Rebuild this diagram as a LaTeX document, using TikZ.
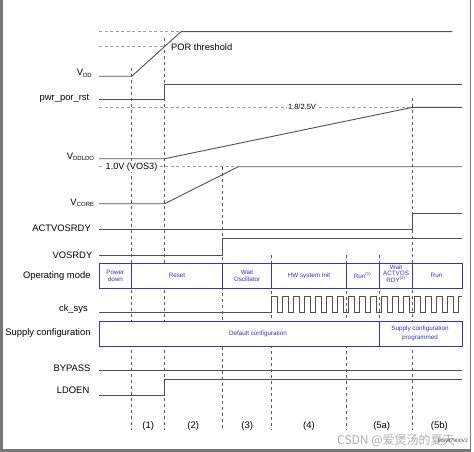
\documentclass[tikz,border=0pt]{standalone}
\usepackage{fontspec}
\setmainfont{Liberation Sans}
\newfontfamily\cjk{Noto Sans CJK SC}
\definecolor{sigc}{RGB}{80,80,80}
\definecolor{thrc}{RGB}{160,160,160}
\definecolor{vdc}{RGB}{90,90,90}
\definecolor{bluec}{RGB}{50,50,210}
\definecolor{framec}{RGB}{120,120,120}
\definecolor{wmc}{RGB}{175,175,175}
\begin{document}
\begin{tikzpicture}[x=1pt,y=-1pt,
  sig/.style={draw=sigc, line width=0.9pt, line join=miter},
  thr/.style={draw=thrc, line width=0.6pt, dash pattern=on 3pt off 2.5pt},
  vdash/.style={draw=vdc, line width=0.7pt, dash pattern=on 3pt off 3pt},
  lbl/.style={anchor=east, font=\fontsize{9.4}{11}\selectfont, text=black, inner sep=0pt},
  modebox/.style={draw=bluec, line width=0.7pt, fill=white},
  mtxt/.style={font=\fontsize{6.3}{7.4}\selectfont, text=bluec, align=center, inner sep=0pt},
  phase/.style={font=\fontsize{9.5}{11}\selectfont, inner sep=0pt},
  lvl/.style={fill=white, inner sep=1pt}]
\newcommand{\sbs}[1]{{\fontsize{6}{6}\selectfont\raisebox{-1.6pt}{#1}}}
\path[use as bounding box, fill=white] (0,0) rectangle (474,452);
% frame
\fill[framec] (0,0) rectangle (3,452);
\fill[framec] (0,448.7) rectangle (471,452);
\draw[framec, line width=0.8pt] (470.7,0) -- (470.7,449);
% vertical dashed lines
\draw[vdash] (131.7,68) -- (131.7,430);
\draw[vdash] (164.7,38) -- (164.7,430);
\draw[vdash] (222.7,166.7) -- (222.7,430);
\draw[vdash] (271.7,255) -- (271.7,430);
\draw[vdash] (346.3,255) -- (346.3,430);
\draw[vdash] (379.7,255) -- (379.7,321);
\draw[vdash] (412.7,98) -- (412.7,430);
% threshold lines
\draw[thr] (99,31.7) -- (181,31.7);
\draw[thr] (99,46.7) -- (164.7,46.7);
\draw[thr] (99,107.3) -- (412.7,107.3);
\draw[thr] (99,166.7) -- (238.3,166.7);
\node[anchor=west, font=\fontsize{9.3}{11}\selectfont, inner sep=0pt] (por) at (171,46.7) {POR threshold};
\node[lvl, font=\fontsize{7.5}{9}\selectfont] (v18) at (302,107.3) {1.8/2.5V};
\node[lvl, font=\fontsize{9.1}{11}\selectfont] (v10) at (131.5,166.7) {1.0V (VOS3)};
% signals
\draw[sig] (99,76.3) -- (131.7,76.3) -- (181,31.7) -- (452,31.7);
\draw[sig] (99,99) -- (164.7,99) -- (164.7,84) -- (462,84);
\draw[sig] (99,158.7) -- (164.7,158.7) -- (412.7,107.3) -- (462,107.3);
\draw[sig] (99,203.7) -- (164.7,203.7) -- (238.3,166.7) -- (462,166.7);
\draw[sig, line width=1.2pt] (99,229.7) -- (412.7,229.7) -- (412.7,213.3) -- (462,213.3);
\draw[sig] (99,255) -- (222.7,255) -- (222.7,238.3) -- (462,238.3);
\draw[sig] (99,312.5) -- (271.7,312.5)
  \foreach \i in {0,...,16}{ -- ++(0,-15.8) -- ++(5.5,0) -- ++(0,15.8) -- ++(5.5,0)}
  -- ++(0,-15.8) -- ++(3.3,0);
\draw[sig] (99,370.7) -- (462,370.7);
\draw[sig] (99,395.3) -- (164.7,395.3) -- (164.7,379) -- (462,379);
% signal labels
\node[lbl] (lvdd) at (92,73.5) {V\sbs{DD}};
\node[lbl] (lpor) at (89.5,98.3) {pwr\_por\_rst};
\node[lbl] (lldo) at (94.3,156.7) {V\sbs{DDLDO}};
\node[lbl] (lcore) at (94.3,202.7) {V\sbs{CORE}};
\node[lbl] (lact) at (91,228.3) {ACTVOSRDY};
\node[lbl] (lvos) at (92.5,255) {VOSRDY};
\node[lbl] (lmode) at (90.7,275.7) {Operating mode};
\node[lbl] (lck) at (88,309.3) {ck\_sys};
\node[lbl] (lsup) at (90.7,332.7) {Supply configuration};
\node[lbl] (lbyp) at (90.7,368.3) {BYPASS};
\node[lbl] (lldoen) at (89.5,390) {LDOEN};
% operating mode row
\draw[modebox] (99,263.3) rectangle (462,288.3);
\foreach \x in {131.7,222.7,271.7,346.3,379.7,412.7}
  \draw[bluec, line width=0.7pt] (\x,263.3) -- (\x,288.3);
\node[mtxt] (m1) at (115.4,275.8) {Power\\down};
\node[mtxt] (m2) at (177,275.8) {Reset};
\node[mtxt] (m3) at (247,275.8) {Wait\\Oscillator};
\node[mtxt] (m4) at (309,275.8) {HW system Init};
\node[mtxt] (m5) at (362.5,275.3) {Run\textsuperscript{(1)}};
\node[mtxt, font=\fontsize{6.3}{6.6}\selectfont] (m6) at (396,273.5) {Wait\\ACTVOS\\RDY\textsuperscript{(2)}};
\node[mtxt] (m7) at (436.5,275.8) {Run};
% supply configuration row
\draw[modebox] (99,321) rectangle (462,346);
\draw[bluec, line width=0.7pt] (379.7,321) -- (379.7,346);
\node[mtxt] (s1) at (258,333.5) {Default configuration};
\node[mtxt, font=\fontsize{6.3}{9}\selectfont] (s2) at (420,333.5) {Supply configuration\\programmed};
% phase labels
\node[phase] (p1) at (148.3,425.7) {(1)};
\node[phase] (p2) at (193.3,425.7) {(2)};
\node[phase] (p3) at (247.3,425.7) {(3)};
\node[phase] (p4) at (309,425.7) {(4)};
\node[phase] (p5a) at (381.7,425.7) {(5a)};
\node[phase] (p5b) at (439.3,425.7) {(5b)};
% watermark
\node[anchor=west, font=\cjk\fontsize{12}{13}\selectfont, text=wmc, inner sep=0pt] (wm) at (337,440) {CSDN @爱煲汤的夏天};
\node[anchor=east, font=\fontsize{5}{6}\selectfont, text=black!75, inner sep=0pt] (wid) at (468,441) {MSv47900V2};
\end{tikzpicture}
\end{document}
